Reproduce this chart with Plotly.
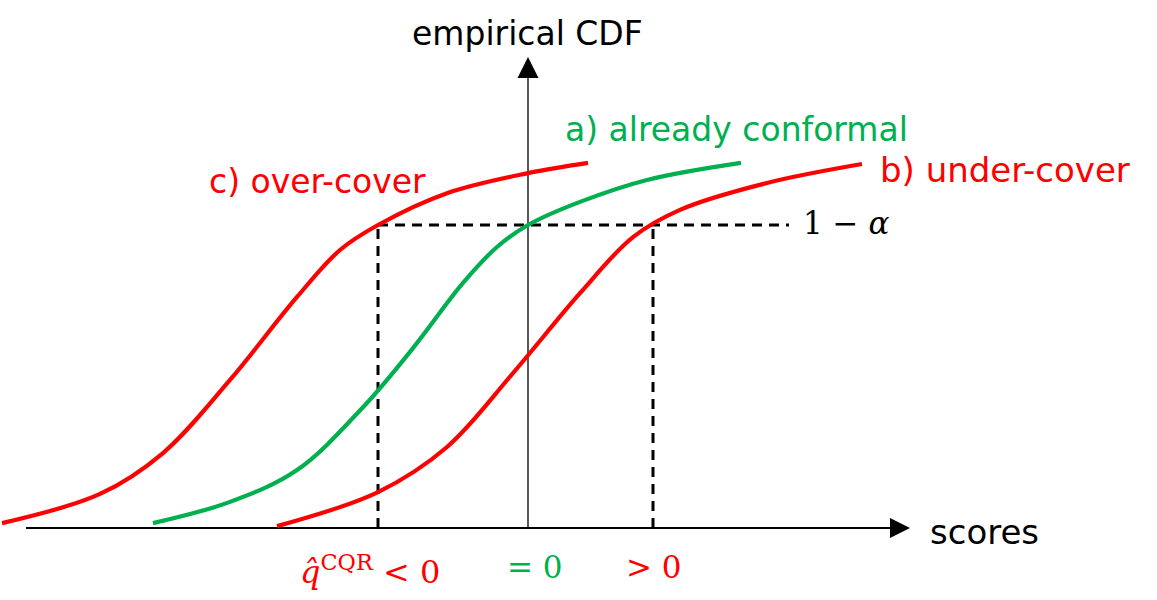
import plotly.graph_objects as go

# ---- data (score units / CDF units) ----
over_x = [-5.26, -4.28, -3.65, -2.98, -2.31, -1.88, -1.50, -0.81, 0.00, 0.60]
over_y = [0.013, 0.090, 0.198, 0.391, 0.610, 0.734, 0.800, 0.884, 0.937, 0.964]

conf_x = [-3.75, -2.98, -2.31, -1.65, -1.15, -0.65, -0.31, 0.00, 0.52, 1.19, 2.13]
conf_y = [0.013, 0.069, 0.153, 0.319, 0.475, 0.647, 0.742, 0.800, 0.861, 0.919, 0.964]

under_x = [-2.51, -1.50, -0.81, -0.15, 0.52, 1.05, 1.52, 2.39, 3.34]
under_y = [0.005, 0.095, 0.214, 0.409, 0.620, 0.768, 0.840, 0.911, 0.961]

level = 0.80            # 1 - alpha
q_over = -1.50          # quantile of over-cover curve
q_conf = 0.00           # quantile of conformal curve
q_under = 1.25          # quantile of under-cover curve
level_end = 2.61

x_axis_start, x_axis_end, x_arrow_tip = -5.02, 3.72, 3.82
y_axis_end, y_arrow_tip = 1.19, 1.2435

RED = "#FF0000"
GREEN = "#00B050"
COMIC = "Comic Sans MS, DejaVu Sans, sans-serif"
MATH = "Cambria Math, DejaVu Serif, serif"

fig = go.Figure()

# axes
fig.add_trace(go.Scatter(x=[x_axis_start, x_axis_end], y=[0, 0], mode="lines",
                         line=dict(color="black", width=2), hoverinfo="skip"))
fig.add_trace(go.Scatter(x=[q_conf, q_conf], y=[0, y_axis_end], mode="lines",
                         line=dict(color="black", width=1.3), hoverinfo="skip"))
fig.add_trace(go.Scatter(x=[x_arrow_tip], y=[0], mode="markers",
                         marker=dict(symbol="arrow-right", size=20, color="black",
                                     line=dict(width=0)),
                         hoverinfo="skip"))
fig.add_trace(go.Scatter(x=[q_conf], y=[y_arrow_tip], mode="markers",
                         marker=dict(symbol="arrow-up", size=21, color="black",
                                     line=dict(width=0)),
                         hoverinfo="skip"))

# dashed guides
dash = dict(color="black", width=3, dash="10px,7px")
fig.add_trace(go.Scatter(x=[q_over, level_end], y=[level, level], mode="lines", line=dash,
                         hoverinfo="skip"))
fig.add_trace(go.Scatter(x=[q_over, q_over], y=[0, level], mode="lines", line=dash,
                         hoverinfo="skip"))
fig.add_trace(go.Scatter(x=[q_under, q_under], y=[0, level], mode="lines", line=dash,
                         hoverinfo="skip"))

# curves
fig.add_trace(go.Scatter(x=over_x, y=over_y, mode="lines", name="c) over-cover",
                         line=dict(color=RED, width=4.2, shape="spline", smoothing=1.0)))
fig.add_trace(go.Scatter(x=conf_x, y=conf_y, mode="lines", name="a) already conformal",
                         line=dict(color=GREEN, width=4.2, shape="spline", smoothing=1.0)))
fig.add_trace(go.Scatter(x=under_x, y=under_y, mode="lines", name="b) under-cover",
                         line=dict(color=RED, width=4.2, shape="spline", smoothing=1.0)))

ann = []
def txt(x, y, s, color, font, size, xanchor="center"):
    ann.append(dict(x=x, y=y, text=s, showarrow=False, xanchor=xanchor, yanchor="middle",
                    font=dict(color=color, family=font, size=size)))

txt(-0.01, 1.305, "empirical CDF", "black", COMIC, 33)
txt(2.08, 1.051, "a) already conformal", GREEN, COMIC, 33)
txt(4.77, 0.945, "b) under-cover", RED, COMIC, 34)
txt(-2.11, 0.914, "c) over-cover", RED, COMIC, 33)
txt(4.00, -0.011, "scores", "black", COMIC, 34, "left")
txt(2.73, 0.805, "1 − <i>α</i>", "black", MATH, 31, "left")
txt(-1.58, -0.11, "<i>q̂</i><sup>CQR</sup> &lt; 0", RED, MATH, 32)
txt(0.065, -0.103, "= 0", GREEN, MATH, 31)
txt(1.255, -0.103, "&gt; 0", RED, MATH, 31)

fig.update_layout(
    width=1157, height=600,
    margin=dict(l=0, r=0, t=0, b=0),
    paper_bgcolor="white", plot_bgcolor="white",
    showlegend=False,
    annotations=ann,
    xaxis=dict(range=[-5.28, 6.29], visible=False, fixedrange=True),
    yaxis=dict(range=[-0.190, 1.394], visible=False, fixedrange=True),
)

fig.write_html("out.html", config={"displayModeBar": False},
               post_script="document.body.style.margin='0';")
